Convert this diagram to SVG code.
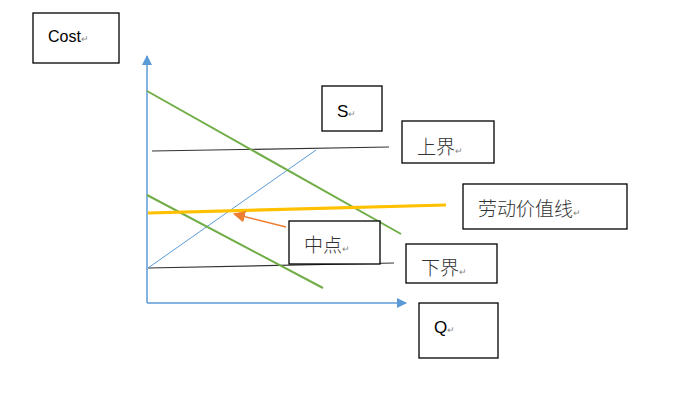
<svg xmlns="http://www.w3.org/2000/svg" width="698" height="407" viewBox="0 0 698 407">
<style>
.box{fill:#fff;stroke:#000;stroke-width:1.3}
.t{font-family:"Liberation Sans","Noto Sans CJK SC",sans-serif;font-size:16px;fill:#000}
.c{font-family:"Noto Sans CJK SC","Liberation Sans",sans-serif;font-size:19px;font-weight:300;fill:#333}
.pm{font-size:9px;fill:#888;font-weight:400}
</style>
<defs>
<marker id="ab" markerWidth="10" markerHeight="10" refX="9" refY="5" orient="auto" markerUnits="userSpaceOnUse" viewBox="0 0 10 10"><path d="M0,0 L10,5 L0,10 z" fill="#5B9BD5"/></marker>
<marker id="ao" markerWidth="12" markerHeight="12" refX="11" refY="6" orient="auto" markerUnits="userSpaceOnUse" viewBox="0 0 12 12"><path d="M0,0 L12,6 L0,12 z" fill="#ED7D31"/></marker>
</defs>
<rect width="698" height="407" fill="#fff"/>
<g id="connectors">
<line x1="147" y1="303" x2="147" y2="56" stroke="#5B9BD5" stroke-width="1.5" marker-end="url(#ab)"/>
<line x1="147" y1="303" x2="406" y2="303" stroke="#5B9BD5" stroke-width="1.5" marker-end="url(#ab)"/>
<line x1="152" y1="151" x2="389" y2="147" stroke="#333" stroke-width="1.2"/>
<line x1="148" y1="268" x2="394" y2="263" stroke="#333" stroke-width="1.2"/>
<line x1="148" y1="268" x2="316" y2="150" stroke="#5B9BD5" stroke-width="1"/>
<line x1="147" y1="91" x2="401" y2="234" stroke="#70AD47" stroke-width="2"/>
<line x1="147" y1="195" x2="323" y2="288" stroke="#70AD47" stroke-width="2"/>
<line x1="148" y1="213" x2="446" y2="205" stroke="#FFC000" stroke-width="3.2"/>
<line x1="286" y1="227" x2="234" y2="214" stroke="#ED7D31" stroke-width="1.3" marker-end="url(#ao)"/>
</g>
<g id="cost"><rect class="box" x="33" y="13" width="86" height="50"/><text class="t" x="48" y="42">Cost<tspan class="pm">↵</tspan></text></g>
<g id="s"><rect class="box" x="322" y="86" width="60" height="45"/><text class="t" x="337" y="117" style="font-size:17px">S<tspan class="pm">↵</tspan></text></g>
<g id="upper"><rect class="box" x="402" y="121" width="92" height="42"/><text class="c" x="417" y="154">上界<tspan class="pm">↵</tspan></text></g>
<g id="labor"><rect class="box" x="463" y="184" width="164" height="45"/><text class="c" x="478" y="216">劳动价值线<tspan class="pm">↵</tspan></text></g>
<g id="mid"><rect class="box" x="289" y="221" width="91" height="43"/><text class="c" x="304" y="252">中点<tspan class="pm">↵</tspan></text></g>
<g id="lower"><rect class="box" x="406" y="244" width="91" height="39"/><text class="c" x="421" y="275">下界<tspan class="pm">↵</tspan></text></g>
<g id="q"><rect class="box" x="419" y="303" width="79" height="55"/><text class="t" x="434" y="333" style="font-size:17px">Q<tspan class="pm">↵</tspan></text></g>
</svg>
